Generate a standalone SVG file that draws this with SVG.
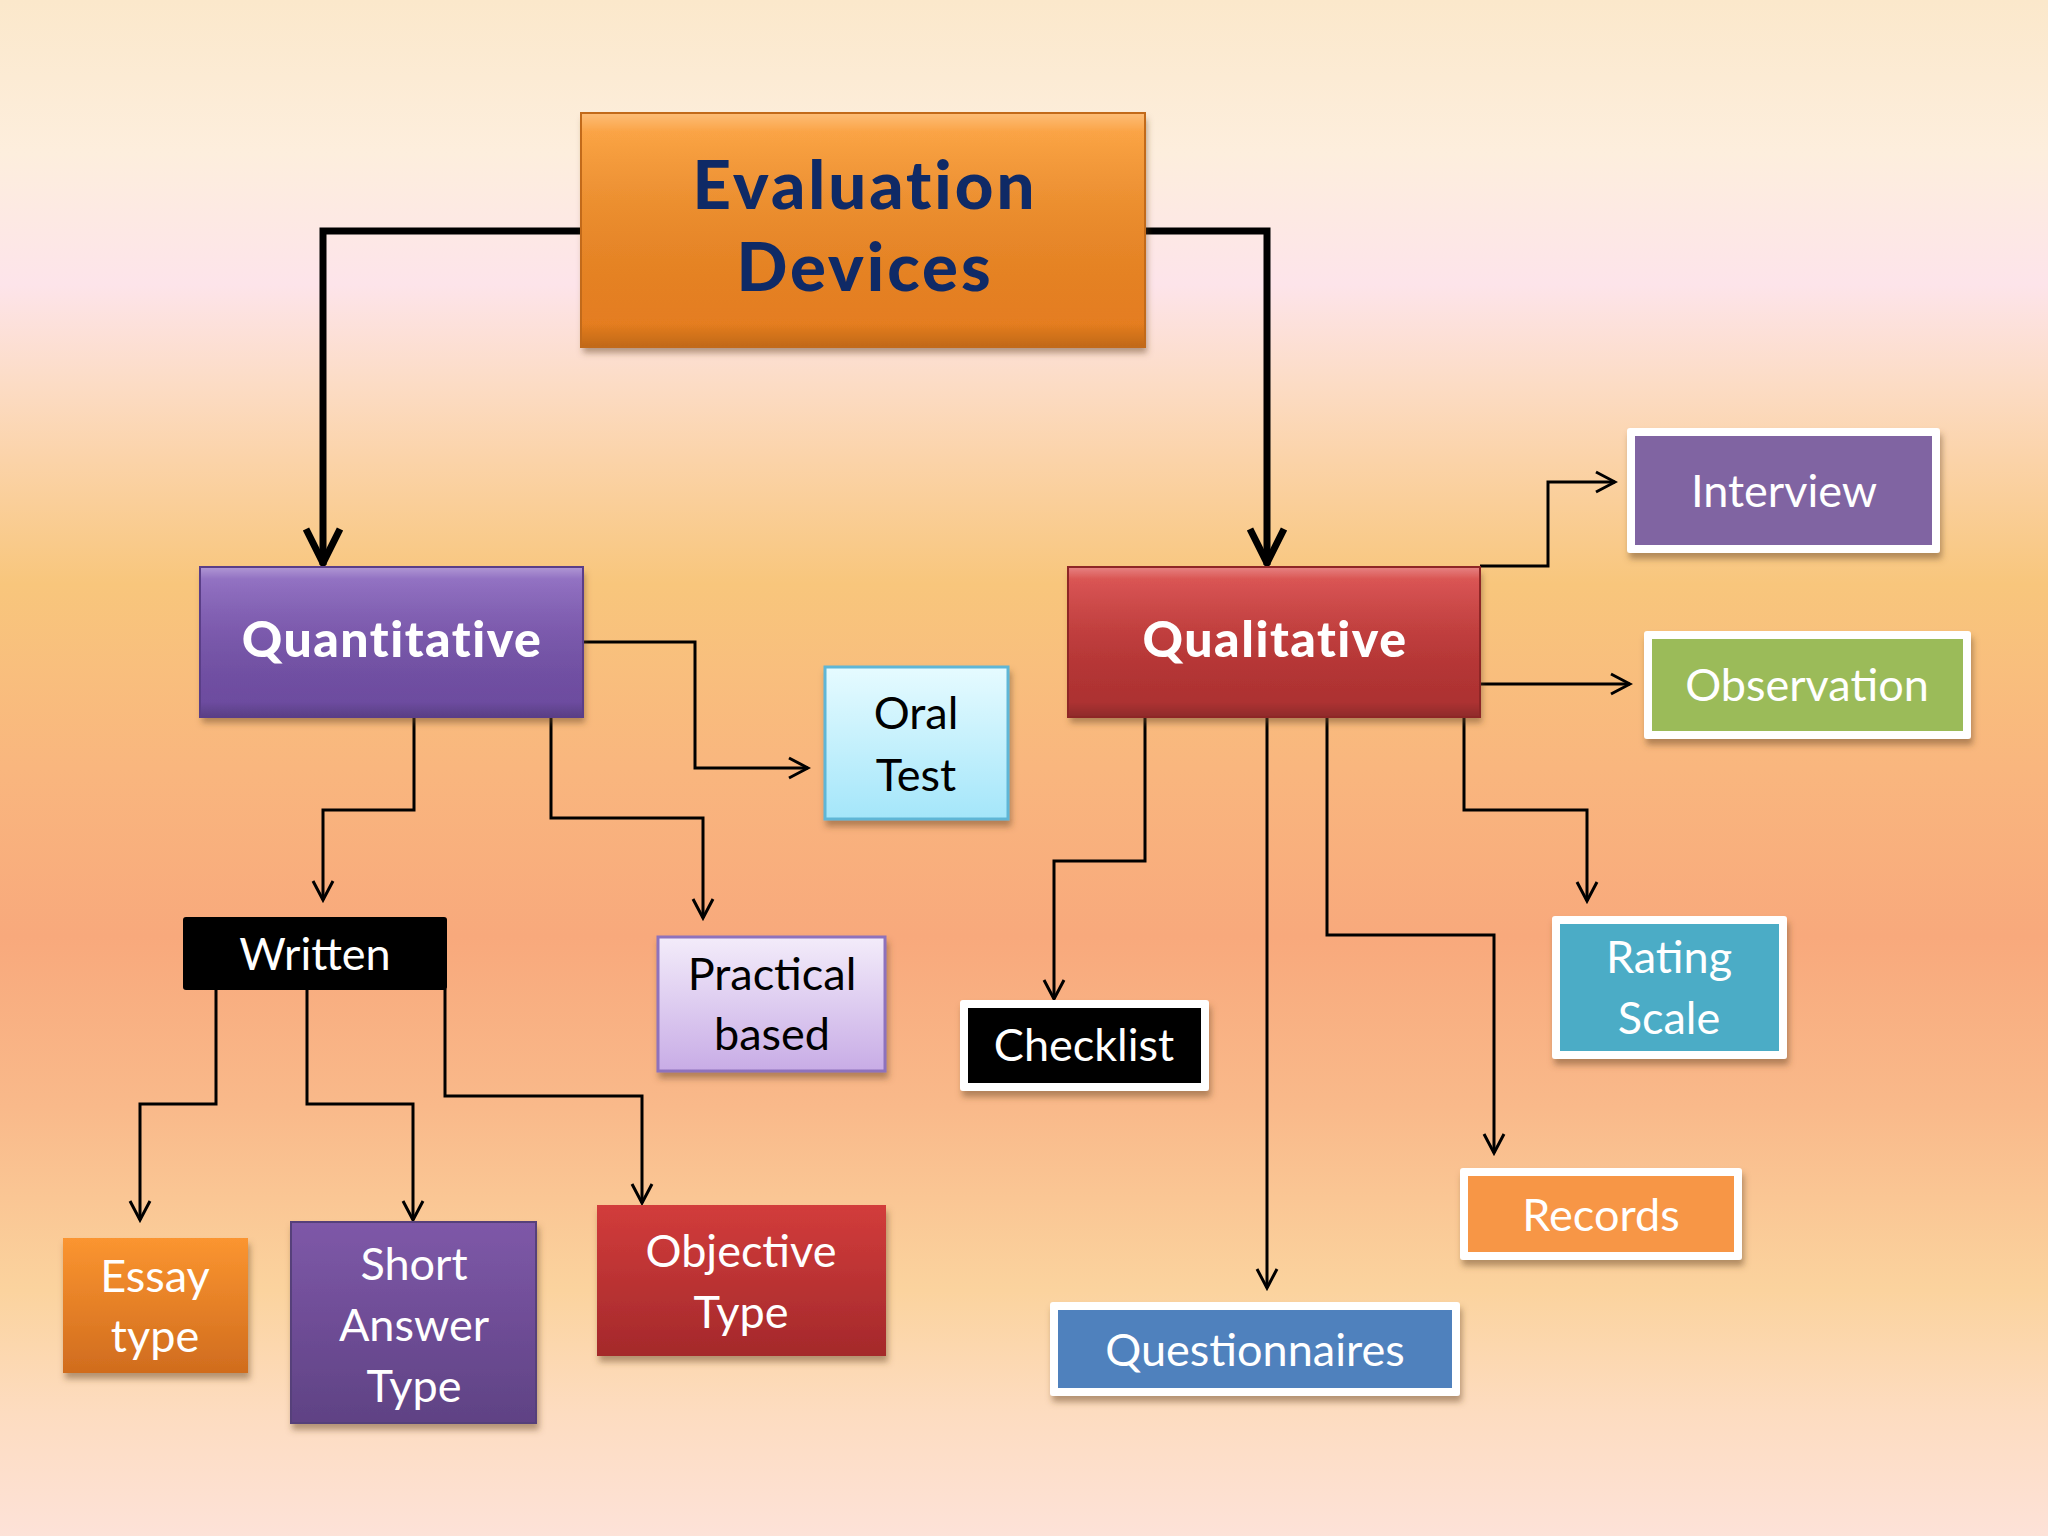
<svg xmlns="http://www.w3.org/2000/svg" width="2048" height="1536" viewBox="0 0 2048 1536">
<defs>
<linearGradient id="bg" x1="0" y1="0" x2="0" y2="1">
<stop offset="0" stop-color="#fbe8cb"/>
<stop offset="0.1" stop-color="#fdeedd"/>
<stop offset="0.185" stop-color="#fde4ea"/>
<stop offset="0.25" stop-color="#fcdcc5"/>
<stop offset="0.3" stop-color="#fbd3a8"/>
<stop offset="0.38" stop-color="#f8c67c"/>
<stop offset="0.5" stop-color="#f9b67e"/>
<stop offset="0.61" stop-color="#f8a97c"/>
<stop offset="0.72" stop-color="#f9b98a"/>
<stop offset="0.84" stop-color="#fbd39e"/>
<stop offset="0.92" stop-color="#fddcc0"/>
<stop offset="1" stop-color="#fde2d8"/>
</linearGradient>
<linearGradient id="gOrange" x1="0" y1="0" x2="0" y2="1">
<stop offset="0" stop-color="#fc9a2e"/>
<stop offset="1" stop-color="#e27a1e"/>
</linearGradient>
<linearGradient id="gPurple" x1="0" y1="0" x2="0" y2="1">
<stop offset="0" stop-color="#8660bd"/>
<stop offset="1" stop-color="#6a4a9c"/>
</linearGradient>
<linearGradient id="gPurple2" x1="0" y1="0" x2="0" y2="1">
<stop offset="0" stop-color="#7e58a8"/>
<stop offset="1" stop-color="#5f4284"/>
</linearGradient>
<linearGradient id="gRed" x1="0" y1="0" x2="0" y2="1">
<stop offset="0" stop-color="#d9403f"/>
<stop offset="1" stop-color="#a83030"/>
</linearGradient>
<linearGradient id="gRed2" x1="0" y1="0" x2="0" y2="1">
<stop offset="0" stop-color="#d23c3b"/>
<stop offset="1" stop-color="#a4292b"/>
</linearGradient>
<linearGradient id="gEssay" x1="0" y1="0" x2="0" y2="1">
<stop offset="0" stop-color="#fb9530"/>
<stop offset="1" stop-color="#d06c1e"/>
</linearGradient>
<linearGradient id="gCyan" x1="0" y1="0" x2="0" y2="1">
<stop offset="0" stop-color="#e6fbff"/>
<stop offset="1" stop-color="#a4e6fa"/>
</linearGradient>
<linearGradient id="gLav" x1="0" y1="0" x2="0" y2="1">
<stop offset="0" stop-color="#f3ecfa"/>
<stop offset="1" stop-color="#c8ace6"/>
</linearGradient>
<linearGradient id="gBevel" x1="0" y1="0" x2="0" y2="1">
<stop offset="0" stop-color="#ffffff" stop-opacity="0.35"/>
<stop offset="0.08" stop-color="#ffffff" stop-opacity="0.12"/>
<stop offset="0.9" stop-color="#000000" stop-opacity="0"/>
<stop offset="1" stop-color="#000000" stop-opacity="0.15"/>
</linearGradient>
<filter id="sh" x="-10%" y="-10%" width="120%" height="130%">
<feDropShadow dx="2" dy="6" stdDeviation="3" flood-color="#6b4a2a" flood-opacity="0.5"/>
</filter>
<marker id="arr" viewBox="0 0 24 24" refX="21" refY="12" markerWidth="24" markerHeight="24" markerUnits="userSpaceOnUse" orient="auto">
<path d="M2,2 L21,12 L2,22" fill="none" stroke="#000" stroke-width="3"/>
</marker>
<marker id="arrBig" viewBox="0 0 44 44" refX="40" refY="22" markerWidth="44" markerHeight="44" markerUnits="userSpaceOnUse" orient="auto">
<path d="M4,5 L38,22 L4,39" fill="none" stroke="#000" stroke-width="7" stroke-linejoin="miter"/>
</marker>
</defs>
<style>
.bold{font-family:Lato,"DejaVu Sans",sans-serif;font-weight:900;text-anchor:middle}
.lab{font-family:Lato,"Liberation Sans",sans-serif;font-size:45px;text-anchor:middle}
.w{fill:#ffffff}
.k{fill:#000000}
.thin{fill:none;stroke:#000;stroke-width:3;marker-end:url(#arr)}
.thick{fill:none;stroke:#000;stroke-width:7;marker-end:url(#arrBig)}
.frame{fill:#ffffff}
</style>
<rect x="0" y="0" width="2048" height="1536" fill="url(#bg)"/>

<g id="connectors">
<path class="thick" d="M581,231 H323 V565"/>
<path class="thick" d="M1145,231 H1267 V565"/>
<path class="thin" d="M583,642 H695 V768 H808"/>
<path class="thin" d="M414,717 V810 H323 V900"/>
<path class="thin" d="M551,717 V818 H703 V918"/>
<path class="thin" d="M216,989 V1104 H140 V1220"/>
<path class="thin" d="M307,989 V1104 H413 V1220"/>
<path class="thin" d="M445,989 V1096 H642 V1203"/>
<path class="thin" d="M1480,566 H1548 V482 H1615"/>
<path class="thin" d="M1480,684 H1630"/>
<path class="thin" d="M1145,717 V861 H1054 V999"/>
<path class="thin" d="M1267,717 V1288"/>
<path class="thin" d="M1327,717 V935 H1494 V1153"/>
<path class="thin" d="M1464,717 V810 H1587 V901"/>
</g>

<g id="evaluation-devices">
<rect x="581" y="113" width="564" height="234" fill="url(#gOrange)" filter="url(#sh)"/>
<rect x="581" y="113" width="564" height="234" fill="url(#gBevel)" stroke="#c26a1a" stroke-width="2"/>
<text class="bold" x="865" y="209" font-size="67" letter-spacing="3" fill="#0f2a66">Evaluation</text>
<text class="bold" x="865" y="291" font-size="67" letter-spacing="3" fill="#0f2a66">Devices</text>
</g>

<g id="quantitative">
<rect x="200" y="567" width="383" height="150" fill="url(#gPurple)" filter="url(#sh)"/>
<rect x="200" y="567" width="383" height="150" fill="url(#gBevel)" stroke="#5a3e88" stroke-width="2"/>
<text class="bold w" x="392" y="657" font-size="50" letter-spacing="1.5">Quantitative</text>
</g>

<g id="qualitative">
<rect x="1068" y="567" width="412" height="150" fill="url(#gRed)" filter="url(#sh)"/>
<rect x="1068" y="567" width="412" height="150" fill="url(#gBevel)" stroke="#8e2626" stroke-width="2"/>
<text class="bold w" x="1275" y="657" font-size="50" letter-spacing="1.5">Qualitative</text>
</g>

<g id="oral-test">
<rect x="825" y="667" width="183" height="152" fill="url(#gCyan)" stroke="#5eb6d6" stroke-width="3" filter="url(#sh)"/>
<text class="lab k" x="916" y="729">Oral</text>
<text class="lab k" x="916" y="791">Test</text>
</g>

<g id="practical-based">
<rect x="658" y="937" width="227" height="134" fill="url(#gLav)" stroke="#8e72bc" stroke-width="3" filter="url(#sh)"/>
<text class="lab k" x="772" y="990">Practical</text>
<text class="lab k" x="772" y="1050">based</text>
</g>

<g id="written">
<rect x="183" y="917" width="264" height="73" rx="3" fill="#000000"/>
<text class="lab w" x="315" y="970">Written</text>
</g>

<g id="essay-type">
<rect x="63" y="1238" width="185" height="135" fill="url(#gEssay)" filter="url(#sh)"/>
<text class="lab w" x="155" y="1292">Essay</text>
<text class="lab w" x="155" y="1352">type</text>
</g>

<g id="short-answer-type">
<rect x="291" y="1222" width="245" height="201" fill="url(#gPurple2)" stroke="#56407a" stroke-width="2" filter="url(#sh)"/>
<text class="lab w" x="414" y="1280">Short</text>
<text class="lab w" x="414" y="1341">Answer</text>
<text class="lab w" x="414" y="1402">Type</text>
</g>

<g id="objective-type">
<rect x="597" y="1205" width="289" height="151" fill="url(#gRed2)" filter="url(#sh)"/>
<text class="lab w" x="741" y="1267">Objective</text>
<text class="lab w" x="741" y="1328">Type</text>
</g>

<g id="checklist">
<rect class="frame" x="960" y="1000" width="249" height="91" rx="3" filter="url(#sh)"/>
<rect x="968" y="1008" width="233" height="75" fill="#000000"/>
<text class="lab w" x="1084" y="1061">Checklist</text>
</g>

<g id="questionnaires">
<rect class="frame" x="1050" y="1302" width="410" height="94" rx="3" filter="url(#sh)"/>
<rect x="1058" y="1310" width="394" height="78" fill="#4f81bd"/>
<text class="lab w" x="1255" y="1366">Questionnaires</text>
</g>

<g id="records">
<rect class="frame" x="1460" y="1168" width="282" height="92" rx="3" filter="url(#sh)"/>
<rect x="1468" y="1176" width="266" height="76" fill="#f79646"/>
<text class="lab w" x="1601" y="1231">Records</text>
</g>

<g id="rating-scale">
<rect class="frame" x="1552" y="916" width="235" height="143" rx="3" filter="url(#sh)"/>
<rect x="1560" y="924" width="219" height="127" fill="#4bacc6"/>
<text class="lab w" x="1669" y="973">Rating</text>
<text class="lab w" x="1669" y="1034">Scale</text>
</g>

<g id="interview">
<rect class="frame" x="1627" y="428" width="313" height="125" rx="3" filter="url(#sh)"/>
<rect x="1635" y="436" width="297" height="109" fill="#8064a2"/>
<text class="lab w" x="1784" y="507">Interview</text>
</g>

<g id="observation">
<rect class="frame" x="1644" y="631" width="327" height="108" rx="3" filter="url(#sh)"/>
<rect x="1652" y="639" width="311" height="92" fill="#9bbb59"/>
<text class="lab w" x="1807" y="701">Observation</text>
</g>
</svg>
